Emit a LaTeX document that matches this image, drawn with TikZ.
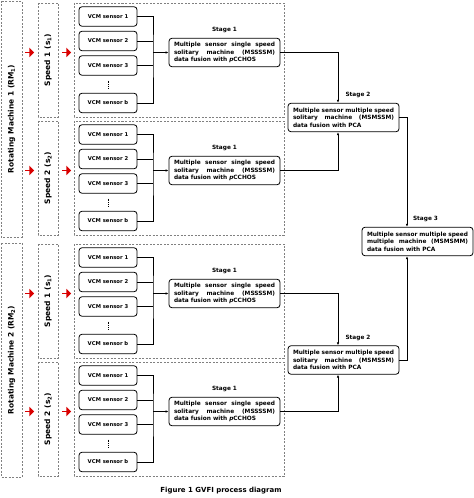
\documentclass[tikz,border=0pt]{standalone}
\usepackage{fontspec}
\setmainfont{DejaVu Sans}
\usetikzlibrary{shapes.arrows,arrows.meta,positioning}

\tikzset{
  dashbox/.style={draw=gray, dash pattern=on 2bp off 1.5bp, line width=0.6bp},
  sensor/.style={draw, rounded corners=3bp, line width=0.8bp, minimum width=58bp, minimum height=19.5bp, inner sep=0, font=\fontsize{5.3}{6}\selectfont\bfseries},
  fusion/.style={draw, rounded corners=3bp, line width=0.8bp, minimum width=111bp, minimum height=28.5bp, text width=101bp, inner sep=0, align=left, font=\fontsize{5.85}{7.4}\selectfont\bfseries},
  stagelbl/.style={font=\fontsize{5.8}{6.5}\selectfont\bfseries},
  vlabel/.style={rotate=90, font=\fontsize{7.5}{9}\selectfont\bfseries},
  redarrow/.style={single arrow, fill=red!85!black, draw=none, minimum height=9bp, minimum width=9.5bp, single arrow head extend=2bp, inner sep=0},
  link/.style={line width=0.7bp},
  feed/.style={line width=0.7bp, -{Latex[length=3bp,width=2.5bp]}}
}

\begin{document}
\begin{tikzpicture}[x=1bp, y=1bp]
    \useasboundingbox (0,0) rectangle (474,-498);

    % rotating machines
    \draw[dashbox] (1,-1) rectangle (22,-237);
    \draw[dashbox] (1,-243) rectangle (22,-477);
    \node[vlabel] (rm1) at (11.5,-119) {Rotating Machine 1 (RM\textsubscript{1})};
    \node[vlabel] (rm2) at (11.5,-360) {Rotating Machine 2 (RM\textsubscript{2})};

    % one group per speed
    \foreach \g/\t/\n in {1/3/1, 2/121/2, 3/244/1, 4/362/2} {
        \draw[dashbox] (38,-\t) rectangle ++(20,-114);
        \draw[dashbox] (74,-\t) rectangle ++(210,-114);
        \node[vlabel] (sp\g) at (48,{-\t-57}) {Speed \n\ (s\textsubscript{\n})};

        \node[redarrow] (ra\g) at (29.5,{-\t-49.5}) {};
        \node[redarrow] (rb\g) at (66.5,{-\t-49.5}) {};

        \node[sensor] (s\g-1) at (108,{-\t-13.5}) {VCM sensor 1};
        \node[sensor] (s\g-2) at (108,{-\t-38}) {VCM sensor 2};
        \node[sensor] (s\g-3) at (108,{-\t-62.5}) {VCM sensor 3};
        \node[sensor] (s\g-b) at (108,{-\t-100}) {VCM sensor b};
        \draw[densely dotted, line width=0.8bp, shorten <=5bp, shorten >=4bp] (s\g-3.south) -- (s\g-b.north);

        \node[fusion] (st1-\g) at (224.5,{-\t-49.5}) {Multiple\hfill sensor\hfill single\hfill speed\\ solitary\hfill machine\hfill (MSSSSM)\\ data fusion with \textit{p}CCHOS};
        \node[stagelbl, above=1.5bp of st1-\g.north] (lb1-\g) {Stage 1};

        \coordinate (bus\g) at (153,{-\t-49.5});
        \draw[link] (s\g-1.east) -| (bus\g) |- (s\g-b.east);
        \draw[link] (s\g-2.east) -- (s\g-2.east -| bus\g);
        \draw[link] (s\g-3.east) -- (s\g-3.east -| bus\g);
        \draw[feed] (bus\g) -- (st1-\g.west);
    }

    % stage 2 and stage 3
    \node[fusion] (st2a) at (343.5,-117.5) {Multiple\hfill sensor\hfill multiple\hfill speed\\ solitary\hfill machine\hfill (MSMSSM)\\ data fusion with PCA};
    \node[fusion] (st2b) at (343.5,-360) {Multiple\hfill sensor\hfill multiple\hfill speed\\ solitary\hfill machine\hfill (MSMSSM)\\ data fusion with PCA};
    \node[fusion] (st3) at (417.5,-241.5) {Multiple\hfill sensor\hfill multiple\hfill speed\\ multiple\hfill machine\hfill (MSMSMM)\\ data fusion with PCA};

    \node[stagelbl, above=1.5bp of st2a.north, xshift=14.5bp] (lb2a) {Stage 2};
    \node[stagelbl, above=1.5bp of st2b.north, xshift=14.5bp] (lb2b) {Stage 2};
    \node[stagelbl, above=1.5bp of st3.north, xshift=8bp] (lb3) {Stage 3};

    \draw[feed] (st1-1.east) -| ([xshift=-5.5bp]st2a.north);
    \draw[feed] (st1-2.east) -| ([xshift=-5.5bp]st2a.south);
    \draw[feed] (st1-3.east) -| ([xshift=-5.5bp]st2b.north);
    \draw[feed] (st1-4.east) -| ([xshift=-5.5bp]st2b.south);
    \draw[feed] (st2a.east) -| ([xshift=-10.5bp]st3.north);
    \draw[feed] (st2b.east) -| ([xshift=-10.5bp]st3.south);

    \node[font=\fontsize{7}{8}\selectfont\bfseries] (cap) at (221,-491) {Figure 1 GVFI process diagram};
\end{tikzpicture}
\end{document}
